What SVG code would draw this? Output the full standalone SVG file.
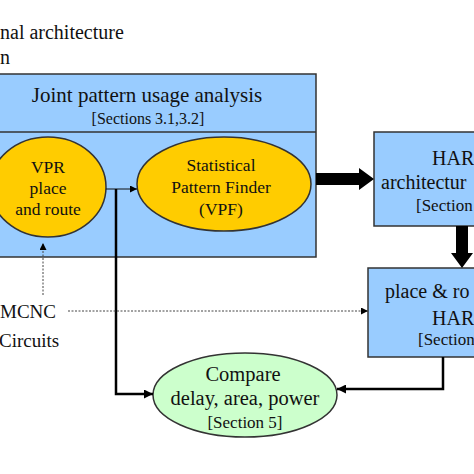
<svg xmlns="http://www.w3.org/2000/svg" width="474" height="474" viewBox="0 0 474 474">
<style>
text{font-family:"Liberation Serif","Times New Roman",serif;fill:#111}
.box{fill:#99ccff;stroke:#333;stroke-width:1.5}
.yel{fill:#ffcc00;stroke:#333;stroke-width:1.5}
.grn{fill:#ccffcc;stroke:#333;stroke-width:1.5}
.c{text-anchor:middle}
.thin{fill:none;stroke:#111;stroke-width:1}
.thick{fill:none;stroke:#000;stroke-width:2.5}
.dot{fill:none;stroke:#444;stroke-width:1;stroke-dasharray:2,1.5}
</style>
<defs>
<marker id="ah" viewBox="0 0 10 10" refX="10" refY="5" markerWidth="7" markerHeight="7" markerUnits="userSpaceOnUse" orient="auto"><path d="M0,0 L10,5 L0,10 z" fill="#000"/></marker>
<marker id="ahb" viewBox="0 0 10 10" refX="10" refY="5" markerWidth="9" markerHeight="9" markerUnits="userSpaceOnUse" orient="auto"><path d="M0,0 L10,5 L0,10 z" fill="#000"/></marker>
</defs>
<rect width="474" height="474" fill="#fff"/>
<g id="title">
<text x="0" y="39" font-size="20">nal architecture</text>
<text x="0" y="64" font-size="20">n</text>
</g>
<g id="joint">
<rect class="box" x="-5" y="74" width="321" height="183"/>
<line x1="-5" y1="132" x2="316" y2="132" stroke="#333" stroke-width="1.5"/>
<text class="c" x="147" y="102" font-size="21">Joint pattern usage analysis</text>
<text class="c" x="148" y="124" font-size="16">[Sections 3.1,3.2]</text>
</g>
<g id="vpr">
<ellipse class="yel" cx="48" cy="187" rx="58" ry="50"/>
<text class="c" x="48" y="173" font-size="17.5">VPR</text>
<text class="c" x="48" y="194" font-size="17.5">place</text>
<text class="c" x="48" y="215" font-size="17.5">and route</text>
</g>
<g id="vpf">
<ellipse class="yel" cx="224" cy="184" rx="87" ry="47"/>
<text class="c" x="221" y="171" font-size="17.5">Statistical</text>
<text class="c" x="221" y="193" font-size="17.5">Pattern Finder</text>
<text class="c" x="221" y="215" font-size="17.5">(VPF)</text>
</g>
<g id="hardarch">
<rect class="box" x="374" y="132" width="110" height="94"/>
<text x="432" y="165" font-size="20">HAR</text>
<text x="381" y="189" font-size="20">architectur</text>
<text x="416" y="211" font-size="17">[Section</text>
</g>
<g id="placeroute">
<rect class="box" x="368" y="268" width="116" height="89"/>
<text x="385" y="298" font-size="20">place &amp; ro</text>
<text x="432" y="325" font-size="20">HAR</text>
<text x="418" y="345" font-size="17">[Section</text>
</g>
<g id="compare">
<ellipse class="grn" cx="245" cy="395" rx="92" ry="42"/>
<text class="c" x="243" y="381" font-size="20.5">Compare</text>
<text class="c" x="245" y="405" font-size="20.5">delay, area, power</text>
<text class="c" x="245" y="428" font-size="17">[Section 5]</text>
</g>
<g id="mcnc">
<text x="0" y="318" font-size="19">MCNC</text>
<text x="-1" y="347" font-size="19">Circuits</text>
</g>
<g id="connectors">
<line class="thin" x1="106" y1="189" x2="137" y2="189" marker-end="url(#ah)"/>
<polyline class="thick" points="116,189 116,394 153,394" marker-end="url(#ahb)"/>
<line class="dot" x1="43" y1="295" x2="43" y2="243" marker-end="url(#ah)"/>
<line class="dot" x1="68" y1="311" x2="368" y2="311" marker-end="url(#ah)"/>
<polyline class="thick" stroke-width="2" points="443,357 443,389 337,389" marker-end="url(#ahb)"/>
<path d="M316,173 L359,173 L359,168 L374,179 L359,190 L359,185 L316,185 z" fill="#000"/>
<path d="M456,226 L456,253 L451,253 L462,268 L473,253 L468,253 L468,226 z" fill="#000"/>
</g>
</svg>
